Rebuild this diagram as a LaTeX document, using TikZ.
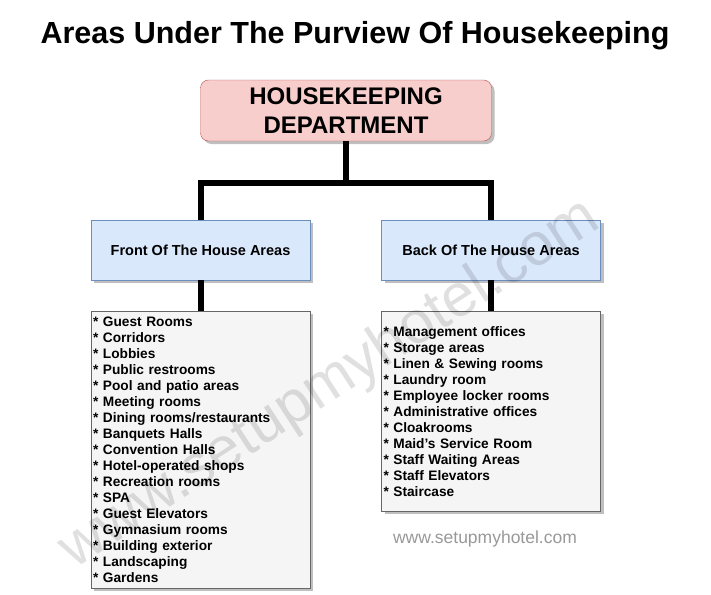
\documentclass[tikz,border=0pt]{standalone}
\usepackage{fontspec}
\setmainfont{Liberation Sans}
\usepackage{tikz}
\usetikzlibrary{positioning,shadows}
\definecolor{headfill}{HTML}{F8CECC}
\definecolor{headdraw}{HTML}{B85450}
\definecolor{areafill}{HTML}{DAE8FC}
\definecolor{areadraw}{HTML}{6C8EBF}
\definecolor{listfill}{HTML}{F5F5F5}
\definecolor{listdraw}{HTML}{666666}
\tikzset{
	boxshadow/.style={drop shadow={shadow xshift=3pt,shadow yshift=-3pt,fill=black,opacity=0.25}},
	head/.style={draw=headdraw,fill=headfill,rounded corners=8pt,minimum width=291pt,
		minimum height=61pt,align=center,boxshadow,font=\fontsize{24}{29}\selectfont\bfseries},
	area/.style={draw=areadraw,fill=areafill,minimum width=219pt,minimum height=60pt,
		boxshadow,font=\fontsize{14.5}{17}\selectfont\bfseries},
	list/.style={draw=listdraw,fill=listfill,minimum width=219pt,text width=215pt,
		inner xsep=2pt,align=left,boxshadow,font=\fontsize{13.7}{16}\selectfont\bfseries},
	link/.style={line width=6pt}
}

\begin{document}
\begin{tikzpicture}[x=1pt,y=-1pt,node distance=31pt]

\fill[white] (0,0) rectangle (711,594);
\useasboundingbox (0,0) rectangle (711,594);

\node[font=\fontsize{30.5}{36}\selectfont\bfseries] (title) at (355,36) {Areas Under The Purview Of Housekeeping};

\node[head] (dept) at (346,110.5) {HOUSEKEEPING\\DEPARTMENT};
\node[area] (front) at (200.5,250) {Front Of The House Areas};
\node[area] (back) at (491,250) {Back Of The House Areas};

\node[list,below=of front,minimum height=277pt] (frontlist) {%
{*} Guest Rooms\\{*} Corridors\\{*} Lobbies\\{*} Public restrooms\\{*} Pool and patio areas\\%
{*} Meeting rooms\\{*} Dining rooms/restaurants\\{*} Banquets Halls\\{*} Convention Halls\\%
{*} Hotel-operated shops\\{*} Recreation rooms\\{*} SPA\\{*} Guest Elevators\\%
{*} Gymnasium rooms\\{*} Building exterior\\{*} Landscaping\\{*} Gardens};
\node[list,below=of back,minimum height=200pt] (backlist) {%
{*} Management offices\\{*} Storage areas\\{*} Linen \& Sewing rooms\\{*} Laundry room\\%
{*} Employee locker rooms\\{*} Administrative offices\\{*} Cloakrooms\\%
{*} Maid’s Service Room\\{*} Staff Waiting Areas\\{*} Staff Elevators\\{*} Staircase};

\coordinate (bar) at (346,183);
\draw[link] (dept) -- (bar);
\draw[link] (front) |- (bar) -| (back);
\draw[link] (front) -- (frontlist);
\draw[link] (back) -- (backlist);

\node[text=black!40,font=\fontsize{17.5}{20}\selectfont] (site) at (485,539) {www.setupmyhotel.com};
\node[text=black,opacity=0.12,rotate=33,font=\fontsize{60}{70}\selectfont] (mark) at (330,385) {www.setupmyhotel.com};

\end{tikzpicture}
\end{document}
